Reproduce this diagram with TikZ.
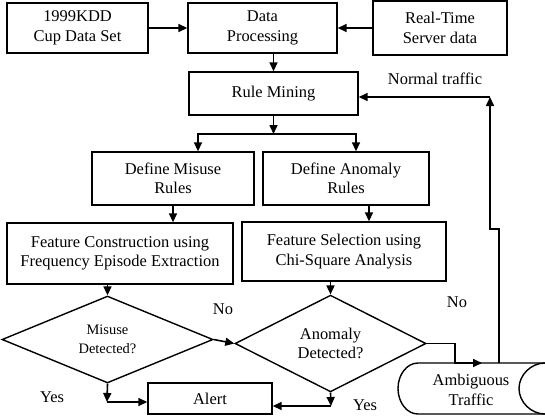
\documentclass[tikz,border=0pt]{standalone}
\usepackage{fontspec}
\setmainfont{Liberation Serif}
\usetikzlibrary{shapes.geometric,arrows.meta}
\begin{document}
\begin{tikzpicture}[x=1bp,y=-1bp,font=\fontsize{16.5}{19.5}\selectfont,
    blk/.style={draw,line width=1.4bp,align=center,inner sep=0pt},
    dmd/.style={draw,diamond,line width=1.4bp,align=center,inner sep=0pt},
    arr/.style={-{Triangle[length=9bp,width=8bp]},line width=1.6bp}]
        \useasboundingbox (0,0) rectangle (545,416);
        \node[blk,minimum width=141bp,minimum height=50bp] (kdd) at (77.5,28) {1999KDD\\Cup Data Set};
        \node[blk,minimum width=149bp,minimum height=50bp] (proc) at (262.5,28) {Data\\Processing};
        \node[blk,minimum width=134bp,minimum height=54bp] (real) at (440,28) {Real-Time\\Server data};
        \node[blk,minimum width=169bp,minimum height=43bp] (rule) at (273.5,93.5) {Rule Mining};
        \node[blk,minimum width=162bp,minimum height=53bp] (dmis) at (173,178.5) {Define Misuse\\Rules};
        \node[blk,minimum width=166bp,minimum height=53bp] (dano) at (346,178.5) {Define Anomaly\\Rules};
        \node[blk,minimum width=226bp,minimum height=61bp] (fcon) at (120,253.5) {Feature Construction using\\Frequency Episode Extraction};
        \node[blk,minimum width=204bp,minimum height=59bp] (fsel) at (344,251.5) {Feature Selection using\\Chi-Square Analysis};
        \node[dmd,minimum width=211bp,minimum height=85bp,font=\fontsize{14.5}{19.5}\selectfont] (mis) at (107.5,339.5) {Misuse\\Detected?};
        \node[dmd,minimum width=191bp,minimum height=93bp] (ano) at (330.5,343.5) {Anomaly\\Detected?};
        \node[blk,minimum width=124bp,minimum height=31bp] (alert) at (210,398.5) {Alert};
        \node[align=center] (amb) at (471,390) {Ambiguous\\Traffic};
        \draw[line width=1.4bp] (545,363) -- (418,363) .. controls (407,363) and (398,374.4) .. (398,388.5)
          .. controls (398,402.6) and (407,414) .. (418,414) -- (545,414);
        \draw[line width=1.4bp] (545,363) .. controls (531,363) and (519,375) .. (519,388.5)
          .. controls (519,402) and (531,414) .. (545,414);
        \node (nrm) at (435,79) {Normal traffic};
        \node (no1) at (223,309) {No};
        \node (no2) at (457,302) {No};
        \node (yes1) at (52,397) {Yes};
        \node (yes2) at (365,405) {Yes};
        \coordinate (fork) at (273.5,134);
        \coordinate (ylft) at (107,402);
        \coordinate (yrgt) at (331,406);
        \coordinate (jog) at (455,363);
        \coordinate (ambin) at (482,363);
        \coordinate (ambout) at (499,363);
        \coordinate (step1) at (490,229);
        \coordinate (corner) at (490,97);
        \path[arr]
          (kdd) edge (proc)
          (real) edge (proc)
          (proc.south -| rule.north) edge (rule.north)
          (rule.south) edge (fork)
          (dmis.south) edge (fcon.north -| dmis.south)
          (mis.east) edge (ano.west)
          (mis.south) edge (ylft)
          (ylft) edge (alert.west |- ylft)
          (ano.south) edge (yrgt)
          (yrgt) edge (alert.east |- yrgt)
          ;
        \draw[arr] (fork) -| ([xshift=25bp]dmis.north);
        \draw[arr] (fork) -| ([xshift=10bp]dano.north);
        \draw[arr] ([xshift=23bp]dano.south) -- ([xshift=23bp]dano.south |- fsel.north);
        \draw[arr] (mis.north |- fcon.south) -- (mis.north);
        \draw[arr] (ano.north |- fsel.south) -- (ano.north);
        \draw[arr] (ano.east) -| (jog) -- (ambin);
        \draw[arr] (ambout) |- (step1) -- (corner);
        \draw[arr] (corner) -- (rule.east |- corner);
      \end{tikzpicture}
\end{document}
